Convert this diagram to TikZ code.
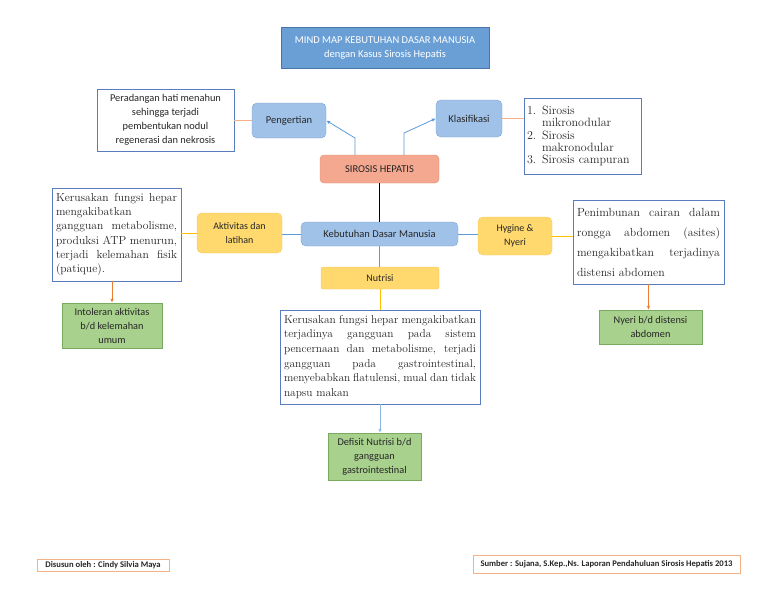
\documentclass[tikz,border=0pt]{standalone}
\usepackage{fontspec}
\setsansfont{Carlito}
\usetikzlibrary{arrows.meta}
\definecolor{titlefill}{RGB}{106,159,214}
\definecolor{titledraw}{RGB}{72,118,170}
\definecolor{bluefill}{RGB}{160,194,232}
\definecolor{bluedraw}{RGB}{124,160,208}
\definecolor{salmonfill}{RGB}{244,168,144}
\definecolor{salmondraw}{RGB}{226,140,116}
\definecolor{yellowfill}{RGB}{255,217,110}
\definecolor{yellowdraw}{RGB}{246,200,92}
\definecolor{greenfill}{RGB}{169,209,142}
\definecolor{greendraw}{RGB}{120,170,95}
\definecolor{boxdraw}{RGB}{88,124,190}
\definecolor{lineblue}{RGB}{91,155,213}
\definecolor{lineorange}{RGB}{237,125,49}
\definecolor{linepeach}{RGB}{244,177,131}
\definecolor{lineyellow}{RGB}{255,192,0}
\definecolor{darktext}{RGB}{38,38,38}
\tikzset{
	titlebox/.style={draw=titledraw, fill=titlefill, text=white, minimum width=208pt, minimum height=41pt, align=center, font=\sffamily\fontsize{10.5}{14}\selectfont},
	bluebox/.style={draw=bluedraw, fill=bluefill, rounded corners=5pt, inner sep=2pt, align=center, text=darktext, font=\sffamily\fontsize{10.5}{12}\selectfont},
	rootbox/.style={draw=salmondraw, fill=salmonfill, rounded corners=4pt, inner sep=2pt, align=center, text=darktext, font=\sffamily\fontsize{10.5}{12}\selectfont},
	yellowbox/.style={draw=yellowdraw, fill=yellowfill, rounded corners=5pt, inner sep=2pt, align=center, text=darktext, font=\sffamily\fontsize{10}{13.5}\selectfont},
	greenbox/.style={draw=greendraw, fill=greenfill, inner sep=2pt, align=center, text=darktext, font=\sffamily\fontsize{10.3}{14}\selectfont},
	% white boxes with the explanations
	textbox/.style={draw=boxdraw, fill=white, inner sep=4pt, align=justify, text=darktext, font=\fontsize{11.6}{14.3}\selectfont},
	footbox/.style={draw=linepeach, fill=white, inner sep=1pt, align=center, text=darktext, font=\sffamily\bfseries\fontsize{8.6}{9}\selectfont},
}

\begin{document}
\begin{tikzpicture}[x=1pt, y=-1pt]
	\useasboundingbox (0,0) rectangle (768,594);
	
	\node (title) [titlebox] at (385,48) {MIND MAP KEBUTUHAN DASAR MANUSIA\\dengan Kasus Sirosis Hepatis};
	
	\node (sirosis) [rootbox, minimum width=119pt, minimum height=28pt] at (379.5,169) {SIROSIS HEPATIS};
	\node (kdm) [bluebox, minimum width=157pt, minimum height=24pt] at (379.5,234) {Kebutuhan Dasar Manusia};
	
	\node (pengertian) [bluebox, minimum width=74pt, minimum height=35pt] at (289,120.5) {Pengertian};
	\node (defpeng) [textbox, align=center, inner sep=2pt, minimum width=137pt, minimum height=62pt, font=\sffamily\fontsize{10.4}{14}\selectfont] at (165.5,120) {Peradangan hati menahun\\sehingga terjadi\\pembentukan nodul\\regenerasi dan nekrosis};
	
	\node (klasifikasi) [bluebox, minimum width=66pt, minimum height=37pt] at (469,118.5) {Klasifikasi};
	\node (klaslist) [textbox, align=left, inner sep=3pt, text width=111pt, minimum height=76pt, font=\fontsize{12}{12.4}\selectfont] at (582.5,136) {\makebox[15pt][l]{1.}Sirosis\\\hspace*{15pt}mikronodular\\\makebox[15pt][l]{2.}Sirosis\\\hspace*{15pt}makronodular\\\makebox[15pt][l]{3.}Sirosis campuran};
	
	\node (aktivitas) [yellowbox, minimum width=85pt, minimum height=40pt] at (239.5,233) {Aktivitas dan\\latihan};
	\node (akttext) [textbox, text width=121pt, minimum height=93pt] at (116.5,234.5) {Kerusakan fungsi hepar\linebreak mengakibatkan\\ gangguan metabolisme,\linebreak produksi ATP menurun,\linebreak terjadi kelemahan fisik\linebreak (patique).};
	\node (intoleran) [greenbox, minimum width=100pt, minimum height=45pt] at (112,325.5) {Intoleran aktivitas\\b/d kelemahan\\umum};
	
	\node (hygine) [yellowbox, minimum width=74pt, minimum height=38pt] at (515,236) {Hygine \&\\Nyeri};
	\node (hygtext) [textbox, text width=143pt, minimum height=84pt, font=\fontsize{11.8}{20}\selectfont] at (648.5,242) {Penimbunan cairan dalam\linebreak rongga abdomen (asites)\linebreak mengakibatkan terjadinya\linebreak distensi abdomen};
	\node (nyeri) [greenbox, minimum width=103pt, minimum height=34pt] at (650.5,327) {Nyeri b/d distensi\\abdomen};
	
	\node (nutrisi) [yellowbox, rounded corners=2pt, minimum width=118pt, minimum height=22pt] at (380,278) {Nutrisi};
	\node (nutrtext) [textbox, text width=192pt, minimum height=94pt, font=\fontsize{11.4}{14.7}\selectfont] at (380,357) {Kerusakan fungsi hepar mengakibatkan\linebreak terjadinya gangguan pada sistem\linebreak pencernaan dan metabolisme, terjadi\linebreak gangguan pada gastrointestinal,\linebreak menyebabkan flatulensi, mual dan tidak\linebreak napsu makan};
	\node (defisit) [greenbox, minimum width=93pt, minimum height=47pt] at (374.5,456.5) {Defisit Nutrisi b/d\\gangguan\\gastrointestinal};
	
	\node (disusun) [footbox, minimum width=132pt, minimum height=12pt] at (103,565) {Disusun oleh : Cindy Silvia Maya};
	\node (sumber) [footbox, minimum width=267pt, minimum height=18pt] at (606.5,564) {Sumber : Sujana, S.Kep.,Ns. Laporan Pendahuluan Sirosis Hepatis 2013};
	
	\coordinate (bendL) at (355,138);
	\coordinate (bendR) at (404,133);
	
	\begin{scope}[line width=0.8pt, >={Latex[length=4pt, width=3.5pt]}]
		\draw[lineblue, ->] (sirosis.north -| bendL) -- (bendL) -- (pengertian.east);
		\draw[lineblue, ->] (sirosis.north -| bendR) -- (bendR) -- (klasifikasi.west);
		\draw[linepeach] (pengertian.west) -- (pengertian.west -| defpeng.east);
		\draw[linepeach] (klasifikasi.east) -- (klasifikasi.east -| klaslist.west);
		
		\draw[black, line width=1.4pt] (sirosis.south) -- (sirosis.south |- kdm.north);
		
		\draw[lineblue] (kdm.west) -- (kdm.west -| aktivitas.east);
		\draw[lineyellow] (aktivitas.west) -- (aktivitas.west -| akttext.east);
		\draw[lineorange, ->] (intoleran.north |- akttext.south) -- (intoleran.north);
		
		\draw[lineblue] (kdm.east) -- (kdm.east -| hygine.west);
		\draw[lineyellow] (hygine.east) -- (hygine.east -| hygtext.west);
		\draw[lineorange, ->] (hygtext.south) -- (hygtext.south |- nyeri.north);
		
		\draw[lineblue] (kdm.south) -- (kdm.south |- nutrisi.north);
		\draw[lineyellow] (nutrisi.south) -- (nutrtext.north);
		\draw[lineblue!70, ->] (nutrtext.south) -- (nutrtext.south |- defisit.north);
	\end{scope}
	
\end{tikzpicture}
\end{document}
